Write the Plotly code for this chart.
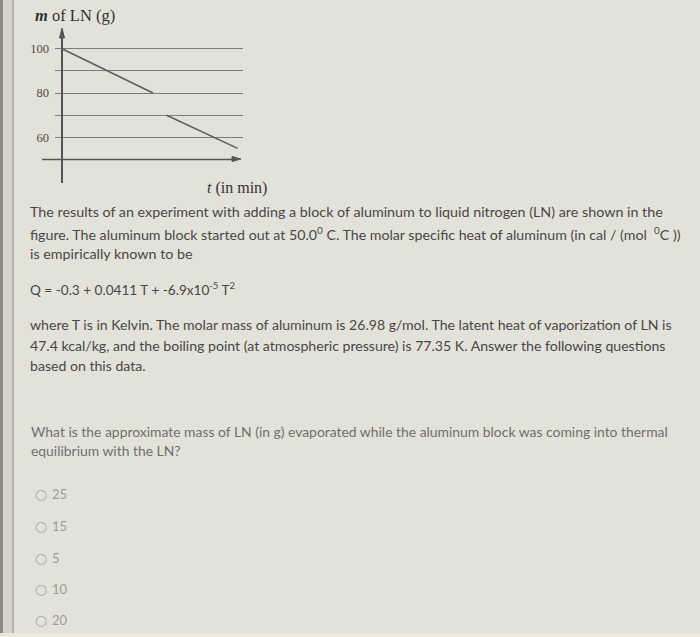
import plotly.graph_objects as go

W, H = 700, 637

# ---- data ----
seg1_t = [0, 10]
seg1_m = [100, 80]
seg2_t = [11.5, 19.3]
seg2_m = [70, 55]
label_ticks = [60, 80, 100]
label_text = ["60", "80", "100"]
minor_grid = [70, 90]

body_lines = [
    ("The results of an experiment with adding a block of aluminum to liquid nitrogen (LN) are shown in the", 212, 14.3),
    ("figure. The aluminum block started out at 50.0<sup>0</sup> C. The molar specific heat of aluminum (in cal / (mol  <sup>0</sup>C ))", 233, 14.2),
    ("is empirically known to be", 253, 14.3),
    ("Q = -0.3 + 0.0411 T + -6.9x10<sup>-5</sup> T<sup>2</sup>", 289, 13.6),
    ("where T is in Kelvin. The molar mass of aluminum is 26.98 g/mol. The latent heat of vaporization of LN is", 324, 14.1),
    ("47.4 kcal/kg, and the boiling point (at atmospheric pressure) is 77.35 K. Answer the following questions", 345, 14.1),
    ("based on this data.", 365, 14.1),
]
question_lines = [
    ("What is the approximate mass of LN (in g) evaporated while the aluminum block was coming into thermal", 431),
    ("equilibrium with the LN?", 450),
]
options = ["25", "15", "5", "10", "20"]
option_y = [494, 526, 558, 589, 620]

def px(x):
    return x / W

def py(y):
    return 1 - y / H

fig = go.Figure()
line_col = "#5e5e5e"
fig.add_trace(go.Scatter(x=seg1_t, y=seg1_m, mode="lines",
                         line=dict(color=line_col, width=1.6), showlegend=False, hoverinfo="skip"))
fig.add_trace(go.Scatter(x=seg2_t, y=seg2_m, mode="lines",
                         line=dict(color=line_col, width=1.6), showlegend=False, hoverinfo="skip"))
# invisible trace on a second y axis (only used for the unlabeled gridlines)
fig.add_trace(go.Scatter(x=[None], y=[None], yaxis="y2", showlegend=False, hoverinfo="skip"))

XR = [-0.77, 19.89]
YR = [39.38, 107.08]
grid_col = "#7d7d7d"
fig.update_layout(
    width=W, height=H,
    margin=dict(l=0, r=0, t=0, b=0),
    paper_bgcolor="#e3e2da",
    plot_bgcolor="rgba(0,0,0,0)",
    showlegend=False,
    xaxis=dict(domain=[px(55), px(243)], range=XR,
               showgrid=False, showticklabels=False, ticks="",
               zeroline=True, zerolinecolor="#555555", zerolinewidth=1.6,
               showline=False, fixedrange=True),
    yaxis=dict(domain=[py(183), py(33)], range=YR,
               tickvals=label_ticks, ticktext=label_text,
               showgrid=True, gridcolor=grid_col, gridwidth=1.2,
               zeroline=False, showline=False, ticks="",
               tickfont=dict(family="Liberation Serif", size=12.5, color="#4a4a4a"),
               ticklabelstandoff=5, fixedrange=True),
    yaxis2=dict(overlaying="y", range=YR, tickvals=minor_grid, showticklabels=False,
                showgrid=True, gridcolor=grid_col, gridwidth=1.2, zeroline=False,
                showline=False, ticks="", fixedrange=True),
)

ax_col = "#555555"
shapes = []
# left frame of the photographed page
shapes.append(dict(type="rect", xref="paper", yref="paper", x0=0, x1=px(13), y0=0, y1=1,
                   fillcolor="#d5d3cb", line=dict(width=0), layer="below"))
shapes.append(dict(type="line", xref="paper", yref="paper", x0=px(13), x1=px(13), y0=0, y1=1,
                   line=dict(color="#a8a69f", width=1.5), layer="below"))
shapes.append(dict(type="rect", xref="paper", yref="paper", x0=0, x1=px(3), y0=0, y1=1,
                   fillcolor="#8f8a80", line=dict(width=0), layer="below"))
shapes.append(dict(type="rect", xref="paper", yref="paper", x0=0, x1=1, y0=0, y1=py(633),
                   fillcolor="#ece9df", line=dict(width=0), layer="below"))
# time axis line (at m = 50) and arrowheads
shapes.append(dict(type="line", xref="paper", yref="y", x0=px(42), x1=px(236), y0=50, y1=50,
                   line=dict(color=ax_col, width=1.6)))
shapes.append(dict(type="path", xref="paper", yref="paper",
                   path=f"M {px(232)} {py(156.5)} L {px(241)} {py(159)} L {px(232)} {py(161.5)} Z",
                   fillcolor=ax_col, line=dict(color=ax_col, width=1)))
shapes.append(dict(type="path", xref="paper", yref="paper",
                   path=f"M {px(59.5)} {py(38)} L {px(62)} {py(28)} L {px(64.5)} {py(38)} Z",
                   fillcolor=ax_col, line=dict(color=ax_col, width=1)))
fig.update_layout(shapes=shapes)

ann = []
ann.append(dict(x=px(33), y=py(15), xref="paper", yref="paper", xanchor="left", yanchor="middle",
                text="<b><i>m</i></b> of LN (g)", showarrow=False,
                font=dict(family="Liberation Serif", size=16.5, color="#333333")))
ann.append(dict(x=px(205), y=py(188), xref="paper", yref="paper", xanchor="left", yanchor="middle",
                text="<i>t</i> (in min)", showarrow=False,
                font=dict(family="Liberation Serif", size=16, color="#333333")))

for txt, y, fs in body_lines:
    ann.append(dict(x=px(28), y=py(y), xref="paper", yref="paper", xanchor="left", yanchor="middle",
                    text=txt, showarrow=False, font=dict(family="Lato", size=fs, color="#474747")))
for txt, y in question_lines:
    ann.append(dict(x=px(29), y=py(y), xref="paper", yref="paper", xanchor="left", yanchor="middle",
                    text=txt, showarrow=False, font=dict(family="Lato", size=13.9, color="#6f6f6f")))
for txt, y in zip(options, option_y):
    ann.append(dict(x=px(41), y=py(y), xref="paper", yref="paper", xanchor="center", yanchor="middle",
                    text="\u25CB", showarrow=False, font=dict(family="DejaVu Sans", size=14, color="#a8a8a8")))
    ann.append(dict(x=px(50), y=py(y), xref="paper", yref="paper", xanchor="left", yanchor="middle",
                    text=txt, showarrow=False, font=dict(family="Lato", size=13, color="#9c9c9c")))

fig.update_layout(annotations=ann)
fig.write_html("out.html", config={"displayModeBar": False},
               post_script="document.body.style.margin='0px';document.body.style.overflow='hidden';")
